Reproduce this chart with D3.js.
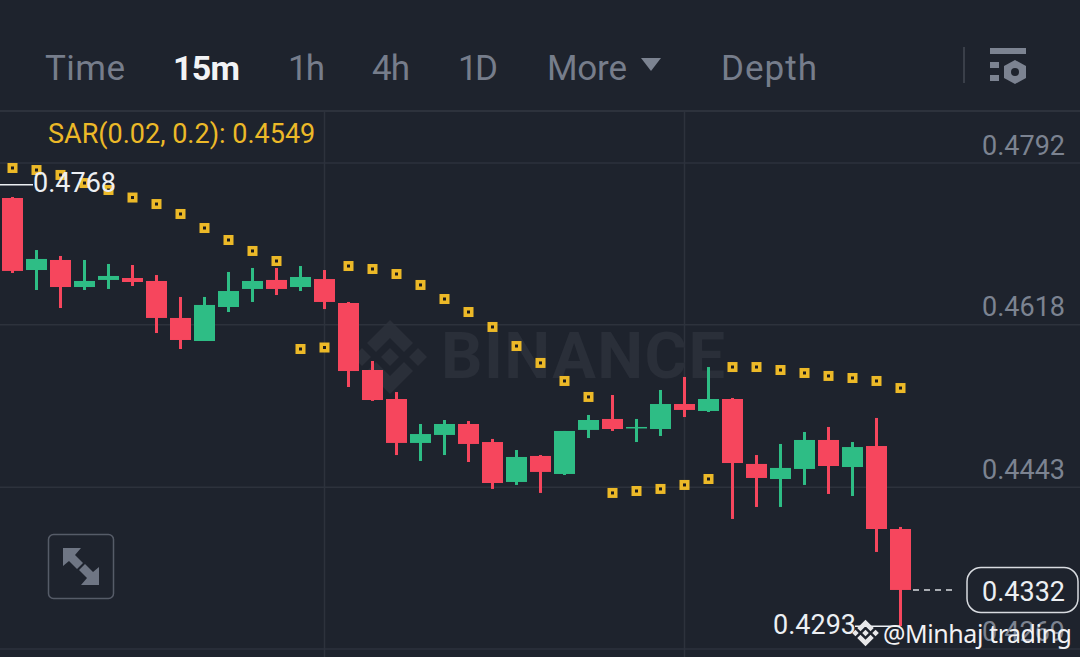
<!DOCTYPE html>
<html><head><meta charset="utf-8">
<script src="https://cdn.jsdelivr.net/npm/d3@7/dist/d3.min.js"></script>
<style>html,body{margin:0;padding:0;background:#1e232d;overflow:hidden}svg{display:block}text{font-family:Roboto,sans-serif}</style>
</head><body><svg id="c" width="1080" height="657"></svg>
<script>
const opens=[.47538,.46763,.46871,.46580,.46656,.46677,.46645,.46247,.45999,.46365,.46559,.46656,.46580,.46666,.46408,.45687,.45375,.44902,.44988,.45106,.44912,.44482,.44762,.44568,.45042,.45160,.45058,.45052,.45321,.45246,.45375,.44676,.44514,.44622,.44934,.44643,.44869,.43976];
const closes=[.46753,.46882,.46580,.46645,.46699,.46634,.46247,.46010,.46387,.46537,.46645,.46559,.46688,.46419,.45676,.45364,.44902,.44998,.45106,.44891,.44471,.44751,.44590,.45031,.45149,.45052,.45074,.45321,.45257,.45375,.44686,.44525,.44633,.44934,.44654,.44858,.43976,.43320];
const highs=[.47549,.46978,.46914,.46871,.46828,.46817,.46709,.46473,.46473,.46742,.46785,.46785,.46806,.46763,.46419,.45784,.45450,.45106,.45149,.45138,.44945,.44826,.44772,.45031,.45203,.45418,.45160,.45472,.45612,.45719,.45386,.44772,.44891,.45020,.45074,.44912,.45171,.43998];
const lows=[.46731,.46548,.46354,.46548,.46559,.46591,.46085,.45913,.45999,.46311,.46419,.46494,.46537,.46343,.45504,.45354,.44772,.44708,.44772,.44697,.44407,.44450,.44364,.44557,.44955,.45031,.44912,.44977,.45181,.45235,.44084,.44213,.44213,.44450,.44353,.44331,.43729,.42932];
const sar=[.47861,.47839,.47786,.47699,.47624,.47543,.47473,.47366,.47215,.47086,.46968,.46860,.45913,.45929,.46806,.46774,.46720,.46602,.46451,.46311,.46150,.45945,.45763,.45569,.45397,.44364,.44385,.44407,.44450,.44514,.45719,.45719,.45687,.45655,.45623,.45601,.45569,.45493];
const priceTicks=[.4792,.4618,.4443,.4269];
const tabs=["Time","15m","1h","4h","1D","More","Depth"];
const sarLabel="SAR(0.02, 0.2): 0.4549";
const highLabel=.4768, lowLabel=.4293, lastPrice=.4332;

const BG="#1e232d",GRID="#2d323c",RED="#f6465d",GREEN="#2ebd85",YEL="#ecb928",GREY="#7c8391",WHITE="#eceff3";
const svg=d3.select("#c");
svg.append("rect").attr("width",1080).attr("height",657).attr("fill",BG);
const y=d3.scaleLinear().domain([.4792,.4269]).range([162.5,648.5]);
const x=d3.scaleLinear().domain([0,37]).range([12.5,900.5]);

// frame + vertical grid
svg.append("line").attr("x1",0).attr("x2",1080).attr("y1",111).attr("y2",111).attr("stroke",GRID).attr("stroke-width",2);
svg.selectAll(".v").data([324.5,684.5]).join("line").attr("x1",d=>d).attr("x2",d=>d).attr("y1",111).attr("y2",657).attr("stroke",GRID).attr("stroke-width",1.5);

// logo used by the watermark and the credit
function logo(cx,cy,s,fill){
 const g=svg.append("g").attr("transform",`translate(${cx},${cy}) scale(${s})`).attr("fill",fill);
 const chev="M0 -37L23 -14L14 -5L0 -19L-14 -5L-23 -14Z";
 g.append("path").attr("d",chev);
 g.append("path").attr("d",chev).attr("transform","rotate(180)");
 [[0,0],[-28,0],[28,0]].forEach(p=>g.append("path").attr("d",`M${p[0]} -9L${p[0]+9} 0L${p[0]} 9L${p[0]-9} 0Z`));
}
logo(390,357,1,"#2a2f39");
svg.append("text").attr("x",441).attr("y",378).attr("font-size",65).attr("font-weight",700).attr("textLength",284).attr("fill","#2a2f39").text("BINANCE");

// y axis with gridlines
const axis=d3.axisRight(y).tickValues(priceTicks).tickFormat(d3.format(".4f")).tickSize(1080).tickPadding(0);
const ga=svg.append("g").call(axis);
ga.select(".domain").remove();
ga.selectAll("line").attr("stroke",GRID).attr("stroke-width",1.5);
ga.selectAll("text").attr("x",1065).attr("dy",null).attr("y",-8.5).attr("text-anchor","end").attr("font-size",27).attr("fill",GREY).style("font-family","Roboto,sans-serif");

// candles
const idx=d3.range(opens.length);
const col=i=>closes[i]>=opens[i]?GREEN:RED;
svg.append("g").selectAll("rect").data(idx).join("rect").attr("x",i=>x(i)-1.5).attr("width",3).attr("y",i=>y(highs[i])).attr("height",i=>y(lows[i])-y(highs[i])).attr("fill",col);
svg.append("g").selectAll("rect").data(idx).join("rect").attr("x",i=>x(i)-10.5).attr("width",21).attr("y",i=>y(Math.max(opens[i],closes[i]))).attr("height",i=>Math.max(1.5,Math.abs(y(opens[i])-y(closes[i])))).attr("fill",col);

// SAR
const gs=svg.append("g");
gs.selectAll(".o").data(sar).join("rect").attr("x",(d,i)=>x(i)-5).attr("y",d=>y(d)-5).attr("width",10).attr("height",10).attr("fill",YEL);
gs.selectAll(".p").data(sar).join("rect").attr("x",(d,i)=>x(i)-1.5).attr("y",d=>y(d)-1.5).attr("width",3).attr("height",3).attr("fill","#1b1a1c");

// tabs
const tabX=[45,173,288,372,458,547,721],tabW=[80,67,37,38,40,80,96];
svg.append("g").selectAll("text").data(tabs).join("text").attr("x",(d,i)=>tabX[i]).attr("y",80).attr("font-size",(d,i)=>i==1?34:35).attr("textLength",(d,i)=>tabW[i])
 .attr("font-weight",(d,i)=>i==1?700:400).attr("fill",(d,i)=>i==1?"#f2f3f5":"#767d8b").text(d=>d);
svg.append("path").attr("d","M641 58H661L651 71Z").attr("fill",GREY);
svg.append("line").attr("x1",964).attr("x2",964).attr("y1",47).attr("y2",83).attr("stroke","#3a3f49").attr("stroke-width",2);
const ic=svg.append("g").attr("fill",GREY);
ic.append("rect").attr("x",977+13).attr("y",48).attr("width",36).attr("height",6);
ic.append("rect").attr("x",990).attr("y",62).attr("width",9).attr("height",6);
ic.append("rect").attr("x",990).attr("y",75).attr("width",9).attr("height",6);
ic.append("path").attr("d","M1015 60L1026 66V78L1015 84L1004 78V66Z");
svg.append("circle").attr("cx",1015).attr("cy",72).attr("r",4).attr("fill",BG);

// labels
svg.append("text").attr("x",48).attr("y",143).attr("font-size",27).attr("fill",YEL).text(sarLabel);
svg.append("line").attr("x1",0).attr("x2",33).attr("y1",y(highLabel)).attr("y2",y(highLabel)).attr("stroke",WHITE).attr("stroke-width",1.5);
svg.append("text").attr("x",33).attr("y",192).attr("font-size",27).attr("fill",WHITE).text(highLabel.toFixed(4));
svg.append("line").attr("x1",855).attr("x2",900).attr("y1",y(lowLabel)).attr("y2",y(lowLabel)).attr("stroke",WHITE).attr("stroke-width",1.5);
svg.append("text").attr("x",773).attr("y",633.5).attr("font-size",27).attr("fill",WHITE).text(lowLabel.toFixed(4));

svg.append("line").attr("x1",913).attr("x2",954).attr("y1",y(lastPrice)).attr("y2",y(lastPrice)).attr("stroke","#d8dbe0").attr("stroke-width",1.5).attr("stroke-dasharray","6 5");
svg.append("rect").attr("x",967).attr("y",567.5).attr("width",111).attr("height",45).attr("rx",14).attr("fill",BG).attr("stroke","#d8dbe0").attr("stroke-width",1.5);
svg.append("text").attr("x",1065).attr("y",600.5).attr("text-anchor","end").attr("font-size",27).attr("fill",WHITE).text(lastPrice.toFixed(4));

// expand button
svg.append("rect").attr("x",48.5).attr("y",534.5).attr("width",65).attr("height",64).attr("rx",5).attr("fill","none").attr("stroke","#565c68").attr("stroke-width",1.5);
const ex=svg.append("g").attr("fill","#6f7684");
ex.append("path").attr("d","M63 548H81L75 555L83 563L77 569L69 561L63 566Z");
ex.append("path").attr("d","M99 585H81L87 578L79 570L85 564L93 572L99 567Z");

// credit
logo(865.5,633,.36,"#e8e8ea");
svg.append("text").attr("x",883).attr("y",643).attr("font-size",25).attr("textLength",189).attr("fill","#f2f2f4").style("font-family","'Noto Sans',sans-serif").text("@Minhaj trading");
</script></body></html>
